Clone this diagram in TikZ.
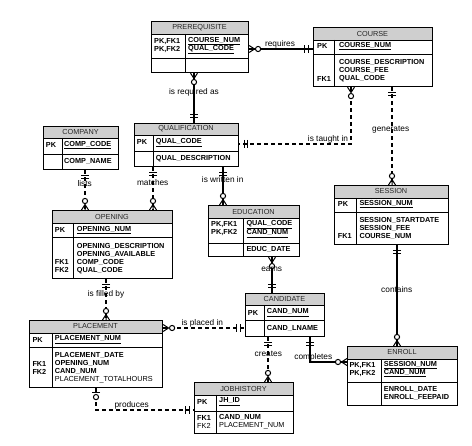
\documentclass[tikz,border=0pt]{standalone}
\usepackage{fontspec}
\setmainfont{Liberation Sans}
\tikzset{
  x=1pt, y=-1pt,
  ebox/.style={draw, line width=1.1pt, inner sep=0pt},
  hdr/.style={fill=black!19},
  sep/.style={line width=0.9pt},
  htxt/.style={font=\fontsize{7.3}{8}\selectfont, inner sep=0pt, text=black!85},
  ktxt/.style={font=\fontsize{7.3}{8}\selectfont\bfseries, inner sep=0pt, align=left, anchor=west},
  rtxt/.style={font=\fontsize{8.3}{9}\selectfont, inner sep=0pt},
  rel/.style={line width=1.4pt},
  opt/.style={rel, dash pattern=on 4pt off 3pt},
  zmany/.pic={\draw[line width=1pt] (0,3.5)--(5.5,0)--(0,-3.5) (0,0)--(5.5,0);
              \draw[line width=1pt, fill=white] (9,0) circle[radius=2.6pt];},
  one/.pic={\draw[line width=1pt] (5,-4)--(5,4) (8.5,-4)--(8.5,4);},
  zone/.pic={\draw[line width=1pt] (4,-4)--(4,4);
             \draw[line width=1pt, fill=white] (9,0) circle[radius=2.6pt];}
}
% name, x1, y1, x2, y2, header bottom, key row bottom, divider x
\newcommand\ebx[8]{%
  \fill[hdr] (#2,#3) rectangle (#4,#6);
  \node[ebox, minimum width={(#4)-(#2)}, minimum height={(#5)-(#3)}, anchor=north west] (#1) at (#2,#3) {};
  \draw[sep] (#2,#6) -- (#4,#6) (#2,#7) -- (#4,#7) (#8,#6) -- (#8,#5);
}
\begin{document}
\begin{tikzpicture}
\useasboundingbox (0,0) rectangle (472,446);

% ---------- entities ----------
\ebx{prereq}{151}{21}{248}{72}{34}{58}{185}
\ebx{course}{313}{27}{432}{86}{40}{54}{334}
\ebx{company}{43}{126}{118}{169}{138}{154}{62}
\ebx{qual}{134}{123}{238}{166}{135}{151}{153}
\ebx{opening}{52}{210}{172}{278}{223}{237}{73}
\ebx{edu}{208}{205}{299}{256}{218}{243}{243}
\ebx{session}{334}{185}{448}{244}{198}{212}{356}
\ebx{cand}{245}{293}{324}{336}{305}{320}{264}
\ebx{placement}{29}{320}{162}{387}{333}{347}{52}
\ebx{enroll}{347}{346}{457}{405}{359}{382}{381}
\ebx{jobh}{194}{382}{293}{433}{395}{411}{216}

% headers
\node[htxt] (prereq-h) at (199.5,27.7) {PREREQUISITE};
\node[htxt] (course-h) at (372.5,33.5) {COURSE};
\node[htxt] (company-h) at (80.5,132) {COMPANY};
\node[htxt] (qual-h) at (186,129) {QUALIFICATION};
\node[htxt] (opening-h) at (112,216.7) {OPENING};
\node[htxt] (edu-h) at (253.5,211.5) {EDUCATION};
\node[htxt] (session-h) at (391,191.3) {SESSION};
\node[htxt] (cand-h) at (284.5,299.3) {CANDIDATE};
\node[htxt] (placement-h) at (95.5,326.3) {PLACEMENT};
\node[htxt] (enroll-h) at (402,352.3) {ENROLL};
\node[htxt] (jobh-h) at (243.5,388.5) {JOBHISTORY};

% prerequisite
\node[ktxt] (prereq-k) at (154,45.3) {PK,FK1\\PK,FK2};
\node[ktxt] (prereq-a) at (188,45.3) {\underline{COURSE\_NUM}\\\underline{QUAL\_CODE}};
% course
\node[ktxt] (course-k) at (317,46.3) {PK};
\node[ktxt] (course-a) at (339,46.3) {\underline{COURSE\_NUM}};
\node[ktxt] (course-b) at (339,70.5) {COURSE\_DESCRIPTION\\COURSE\_FEE\\QUAL\_CODE};
\node[ktxt] (course-f) at (317,78.7) {FK1};
% company
\node[ktxt] (company-k) at (45.7,145.3) {PK};
\node[ktxt] (company-a) at (64,145.3) {\underline{COMP\_CODE}};
\node[ktxt] (company-b) at (64,161.3) {COMP\_NAME};
% qualification
\node[ktxt] (qual-k) at (136.7,142.3) {PK};
\node[ktxt] (qual-a) at (155.7,142.3) {\underline{QUAL\_CODE}};
\node[ktxt] (qual-b) at (155.7,158.7) {QUAL\_DESCRIPTION};
% opening
\node[ktxt] (opening-k) at (54.7,230) {PK};
\node[ktxt] (opening-a) at (76.7,230) {\underline{OPENING\_NUM}};
\node[ktxt] (opening-b) at (76.7,258.2) {OPENING\_DESCRIPTION\\OPENING\_AVAILABLE\\COMP\_CODE\\QUAL\_CODE};
\node[ktxt] (opening-f) at (54.7,266.3) {FK1\\FK2};
% education
\node[ktxt] (edu-k) at (211,229) {PK,FK1\\PK,FK2};
\node[ktxt] (edu-a) at (246.3,229) {\underline{QUAL\_CODE}\\\underline{CAND\_NUM}};
\node[ktxt] (edu-b) at (246.3,249.3) {EDUC\_DATE};
% session
\node[ktxt] (session-k) at (337.7,204.3) {PK};
\node[ktxt] (session-a) at (359.3,204.3) {\underline{SESSION\_NUM}};
\node[ktxt] (session-b) at (359.3,228.3) {SESSION\_STARTDATE\\SESSION\_FEE\\COURSE\_NUM};
\node[ktxt] (session-f) at (337.7,236.3) {FK1};
% candidate
\node[ktxt] (cand-k) at (247.7,312.7) {PK};
\node[ktxt] (cand-a) at (266.7,312.7) {\underline{CAND\_NUM}};
\node[ktxt] (cand-b) at (266.7,328.7) {CAND\_LNAME};
% placement
\node[ktxt] (placement-k) at (32.3,339.7) {PK};
\node[ktxt] (placement-a) at (54.7,339.7) {\underline{PLACEMENT\_NUM}};
\node[ktxt] (placement-b) at (54.7,367.7) {PLACEMENT\_DATE\\OPENING\_NUM\\CAND\_NUM\\{\mdseries PLACEMENT\_TOTALHOURS}};
\node[ktxt] (placement-f) at (32.3,367.7) {FK1\\FK2};
% enroll
\node[ktxt] (enroll-k) at (349.3,369.3) {PK,FK1\\PK,FK2};
\node[ktxt] (enroll-a) at (383.7,369.3) {\underline{SESSION\_NUM}\\\underline{CAND\_NUM}};
\node[ktxt] (enroll-b) at (383.7,393.5) {ENROLL\_DATE\\ENROLL\_FEEPAID};
% jobhistory
\node[ktxt] (jobh-k) at (197,401.7) {PK};
\node[ktxt] (jobh-a) at (219,401.7) {\underline{JH\_ID}};
\node[ktxt] (jobh-f) at (197,421.7) {FK1\\{\mdseries FK2}};
\node[ktxt] (jobh-b) at (219,421.7) {CAND\_NUM\\{\mdseries PLACEMENT\_NUM}};

% ---------- relationships ----------
% requires
\draw[rel] (prereq.east |- 0,49) -- (course.west |- 0,49);
\pic at (prereq.east |- 0,49) {zmany};
\pic[rotate=180] at (course.west |- 0,49) {one};
\node[rtxt] (l-requires) at (280,44.3) {requires};
% is required as
\draw[rel] (prereq.south -| 194,0) -- (qual.north -| 194,0);
\pic[rotate=-90] at (prereq.south -| 194,0) {zmany};
\pic[rotate=90] at (qual.north -| 194,0) {one};
\node[rtxt] (l-isreq) at (194,92.7) {is required as};
% is taught in
\draw[opt] (course.south -| 351,0) |- (qual.east |- 0,144);
\pic[rotate=-90] at (course.south -| 351,0) {zmany};
\pic at (qual.east |- 0,144) {one};
\node[rtxt] (l-taught) at (328,139.3) {is taught in};
% generates
\draw[opt] (course.south -| 392,0) -- (session.north -| 392,0);
\pic[rotate=-90] at (course.south -| 392,0) {one};
\pic[rotate=90] at (session.north -| 392,0) {zmany};
\node[rtxt] (l-gen) at (390.7,130) {generates};
% lists
\draw[opt] (company.south -| 85,0) -- (opening.north -| 85,0);
\pic[rotate=-90] at (company.south -| 85,0) {one};
\pic[rotate=90] at (opening.north -| 85,0) {zmany};
\node[rtxt] (l-lists) at (84.7,184) {lists};
% matches
\draw[opt] (qual.south -| 153,0) -- (opening.north -| 153,0);
\pic[rotate=-90] at (qual.south -| 153,0) {one};
\pic[rotate=90] at (opening.north -| 153,0) {zmany};
\node[rtxt] (l-matches) at (152.7,182.7) {matches};
% is written in
\draw[rel] (qual.south -| 223,0) -- (edu.north -| 223,0);
\pic[rotate=-90] at (qual.south -| 223,0) {one};
\pic[rotate=90] at (edu.north -| 223,0) {zmany};
\node[rtxt] (l-written) at (222.7,180) {is written in};
% earns
\draw[rel] (edu.south -| 272,0) -- (cand.north -| 272,0);
\pic[rotate=-90] at (edu.south -| 272,0) {zmany};
\pic[rotate=90] at (cand.north -| 272,0) {one};
\node[rtxt] (l-earns) at (271.7,269) {earns};
% contains
\draw[rel] (session.south -| 397,0) -- (enroll.north -| 397,0);
\pic[rotate=-90] at (session.south -| 397,0) {one};
\pic[rotate=90] at (enroll.north -| 397,0) {zmany};
\node[rtxt] (l-contains) at (396.7,290) {contains};
% is filled by
\draw[opt] (opening.south -| 106,0) -- (placement.north -| 106,0);
\pic[rotate=-90] at (opening.south -| 106,0) {one};
\pic[rotate=90] at (placement.north -| 106,0) {zmany};
\node[rtxt] (l-filled) at (106,294) {is filled by};
% is placed in
\draw[opt] (placement.east |- 0,328) -- (cand.west |- 0,328);
\pic at (placement.east |- 0,328) {zmany};
\pic[rotate=180] at (cand.west |- 0,328) {one};
\node[rtxt] (l-placed) at (202.3,323.3) {is placed in};
% creates
\draw[opt] (cand.south -| 268,0) -- (jobh.north -| 268,0);
\pic[rotate=-90] at (cand.south -| 268,0) {one};
\pic[rotate=90] at (jobh.north -| 268,0) {zmany};
\node[rtxt] (l-creates) at (268.3,354) {creates};
% completes
\draw[rel] (cand.south -| 310,0) |- (enroll.west |- 0,362);
\pic[rotate=-90] at (cand.south -| 310,0) {one};
\pic[rotate=180] at (enroll.west |- 0,362) {zmany};
\node[rtxt] (l-completes) at (313.3,357.3) {completes};
% produces
\draw[opt] (placement.south -| 96,0) |- (jobh.west |- 0,410);
\pic[rotate=-90] at (placement.south -| 96,0) {zone};
\pic[rotate=180] at (jobh.west |- 0,410) {one};
\node[rtxt] (l-produces) at (131.7,405) {produces};
\end{tikzpicture}
\end{document}
